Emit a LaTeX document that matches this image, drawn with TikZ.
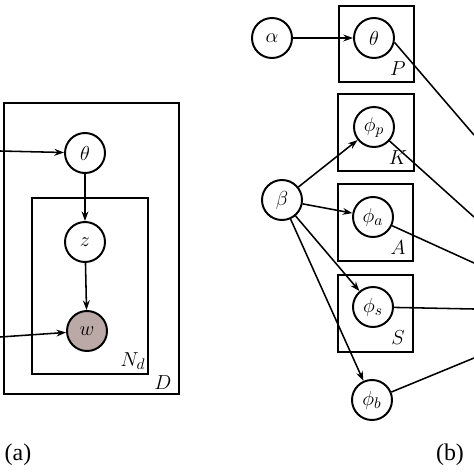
\documentclass[tikz,border=0pt]{standalone}
\usepackage{fontspec}
\usepackage{tikz}
\usetikzlibrary{arrows.meta}
\newfontfamily\capfont{Liberation Serif}
\definecolor{observed}{HTML}{BBA9A7}

\begin{document}
\begin{tikzpicture}[
    x=0.025cm, y=-0.025cm,
    font=\fontsize{15}{18}\selectfont,
    var/.style={draw, circle, line width=1.4pt, minimum size=1cm, inner sep=0pt},
    obs/.style={var, fill=observed},
    plate/.style={draw, line width=1.4pt},
    platelabel/.style={inner sep=0pt},
    caption/.style={font=\capfont\fontsize{17}{20}\selectfont},
    arrow/.style={-{Stealth[length=2.4mm, width=1.7mm]}, line width=1.1pt},
    link/.style={line width=1.1pt}
]
\useasboundingbox (0,0) rectangle (474,474);

% (a) document model
\draw[plate] (4,103) rectangle (179,394);
\draw[plate] (32,198) rectangle (148,374);
\node[var] (theta) at (85,153) {$\theta$};
\node[var] (z) at (85,242) {$z$};
\node[obs] (w) at (87,331) {$w$};
\node[platelabel] (Nd) at (133,361) {$N_d$};
\node[platelabel] (D) at (163,383) {$D$};
\coordinate (inTheta) at (0,151);
\coordinate (inW) at (0,337);

\draw[arrow] (inTheta) -- (theta);
\draw[arrow] (theta) -- (z);
\draw[arrow] (z) -- (w);
\draw[arrow] (inW) -- (w);

% (b) priors
\draw[plate] (339,6) rectangle (414,82);
\draw[plate] (338,94) rectangle (414,171);
\draw[plate] (338,184) rectangle (413,261);
\draw[plate] (338,275) rectangle (413,352);

\node[var] (alpha) at (272,38) {$\alpha$};
\node[var] (thetaP) at (374,38) {$\theta$};
\node[var] (beta) at (282,200) {$\beta$};
\node[var] (phiP) at (374,127) {$\phi_p$};
\node[var] (phiA) at (373,217) {$\phi_a$};
\node[var] (phiS) at (373,307) {$\phi_s$};
\node[var] (phiB) at (372,400) {$\phi_b$};

\node[platelabel] (P) at (398,69) {$P$};
\node[platelabel] (K) at (398,158) {$K$};
\node[platelabel] (A) at (398,248) {$A$};
\node[platelabel] (S) at (398,338) {$S$};

\coordinate (outTheta) at (474,135);
\coordinate (outP) at (474,217);
\coordinate (outA) at (474,263);
\coordinate (outS) at (474,309);
\coordinate (outB) at (474,358);

\draw[arrow] (alpha) -- (thetaP);
\draw[arrow] (beta) -- (phiP);
\draw[arrow] (beta) -- (phiA);
\draw[arrow] (beta) -- (phiS);
\draw[arrow] (beta) -- (phiB);

\draw[link] (thetaP.-12) -- (outTheta);
\draw[link] (phiP) -- (outP);
\draw[link] (phiA) -- (outA);
\draw[link] (phiS) -- (outS);
\draw[link] (phiB) -- (outB);

\node[caption] (capA) at (18,455) {(a)};
\node[caption] (capB) at (450,455) {(b)};
\end{tikzpicture}
\end{document}
